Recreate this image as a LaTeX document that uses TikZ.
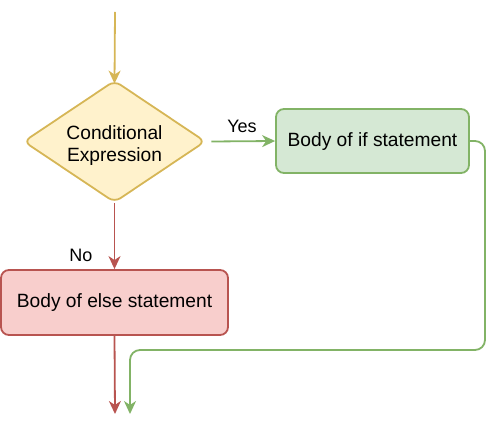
\documentclass[tikz,border=0pt]{standalone}
\usepackage{fontspec}
\setmainfont{Liberation Sans}
\usetikzlibrary{shapes.geometric,arrows.meta}
\definecolor{ylwF}{HTML}{FFF2CC}
\definecolor{ylwD}{HTML}{D6B656}
\definecolor{grnF}{HTML}{D5E8D4}
\definecolor{grnD}{HTML}{82B366}
\definecolor{redF}{HTML}{F8CECC}
\definecolor{redD}{HTML}{B85450}
\begin{document}
\begin{tikzpicture}[x=1pt,y=-1pt,
  every node/.style={font=\fontsize{19.2}{22}\selectfont},
  box/.style={rectangle,rounded corners=8pt,line width=1.8pt,inner sep=0pt,text depth=3pt},
  cond/.style={diamond,rounded corners=7pt,line width=1.8pt,inner sep=0pt,fill=ylwF,draw=ylwD,minimum width=182pt,minimum height=122pt},
  conn/.style={line width=1.8pt,-{Stealth[length=13pt,width=12pt,inset=4pt]}},
  lbl/.style={font=\fontsize{18}{20}\selectfont}]
\useasboundingbox (0,0) rectangle (500,430);
\coordinate (top) at (115,12);
\coordinate (endno) at (115,414);
\coordinate (endyes) at (130,414);
\coordinate (turn) at (485,350);
\node[cond] (c) at (114.5,141.5) {};
\node[align=center,inner sep=0pt] (ctext) at ([yshift=-4pt]c.center) {Conditional\\Expression};
\node[box,fill=grnF,draw=grnD,minimum width=193pt,minimum height=64pt] (if) at (372.5,141) {Body of if statement};
\node[box,fill=redF,draw=redD,minimum width=227pt,minimum height=65pt] (else) at (114.5,302.5) {Body of else statement};
\draw[conn,draw=ylwD] (top) -- ([yshift=-4pt]c.north);
\draw[conn,draw=grnD] ([xshift=5pt]c.east) -- (if.west);
\draw[conn,draw=redD] (c.south) -- (else.north);
\draw[conn,draw=redD] (else.south) -- (endno);
\draw[conn,draw=grnD,rounded corners=10pt] (if.east) -| (turn) -| (endyes);
\node[lbl] (yes) at (242,126) {Yes};
\node[lbl] (no) at (81,255) {No};
\end{tikzpicture}
\end{document}
